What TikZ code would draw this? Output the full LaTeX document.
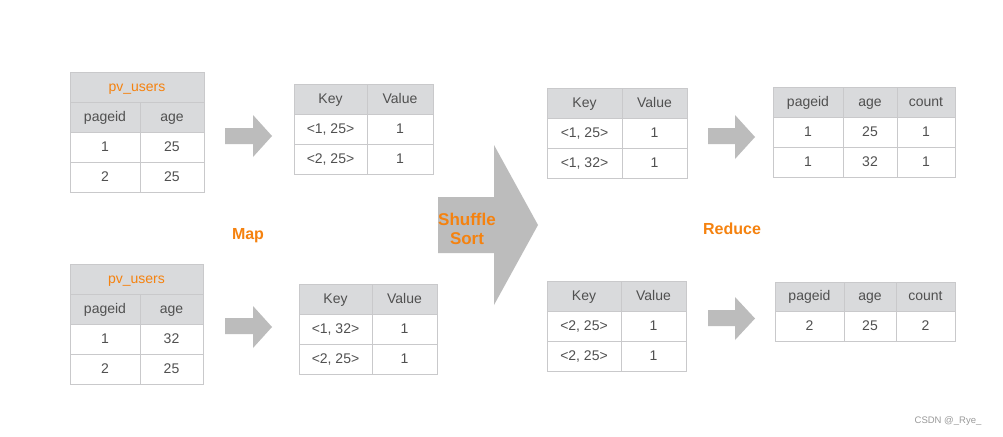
\documentclass[tikz,border=0pt]{standalone}
\usepackage{fontspec}
\setmainfont{Liberation Sans}
\definecolor{bordc}{HTML}{C9C9CB}
\definecolor{hdrc}{HTML}{D9DADC}
\definecolor{txtc}{HTML}{505050}
\definecolor{orng}{HTML}{F5820F}
\definecolor{arrc}{HTML}{BCBCBC}
\definecolor{wmc}{HTML}{9A9A9A}
\tikzset{
  cellbase/.style={draw=bordc, line width=0.9pt, inner sep=0pt, text=txtc, font=\fontsize{14}{16}\selectfont, anchor=center, text height=9pt, text depth=0.5pt},
  hcell/.style={cellbase, fill=hdrc},
  dcell/.style={cellbase, fill=white},
  sz/.style 2 args={minimum width=#1, minimum height=#2},
  lbl/.style={text=orng, font=\fontsize{16}{19}\selectfont\bfseries, align=center, inner sep=0pt},
  garrow/.style={fill=arrc, draw=none}
}
\begin{document}
\begin{tikzpicture}[x=1pt,y=-1pt]
\useasboundingbox (0,0) rectangle (1003,436);
\fill[white] (0,0) rectangle (1003,436);

% ---- pv_users (top)
\node[hcell, sz={134}{30}, text=orng] (t1t) at (137,87) {pv\_users};
\node[hcell, sz={70}{30}] (t1h1) at (105,117) {pageid};
\node[hcell, sz={64}{30}] (t1h2) at (172,117) {age};
\node[dcell, sz={70}{30}] (t1a1) at (105,147) {1};
\node[dcell, sz={64}{30}] (t1a2) at (172,147) {25};
\node[dcell, sz={70}{30}] (t1b1) at (105,177) {2};
\node[dcell, sz={64}{30}] (t1b2) at (172,177) {25};

% ---- pv_users (bottom)
\node[hcell, sz={133}{30}, text=orng] (t2t) at (136.5,279) {pv\_users};
\node[hcell, sz={70}{30}] (t2h1) at (105,309) {pageid};
\node[hcell, sz={63}{30}] (t2h2) at (171.5,309) {age};
\node[dcell, sz={70}{30}] (t2a1) at (105,339) {1};
\node[dcell, sz={63}{30}] (t2a2) at (171.5,339) {32};
\node[dcell, sz={70}{30}] (t2b1) at (105,369) {2};
\node[dcell, sz={63}{30}] (t2b2) at (171.5,369) {25};

% ---- map arrows
\fill[garrow] (225,128) -- (253,128) -- (253,115) -- (272,136) -- (253,157) -- (253,144) -- (225,144) -- cycle;
\fill[garrow] (225,318) -- (253,318) -- (253,306) -- (272,327) -- (253,348) -- (253,334) -- (225,334) -- cycle;
\node[lbl] (map) at (248,236) {Map};

% ---- KV1
\node[hcell, sz={73}{30}] (k1h1) at (330.5,99) {Key};
\node[hcell, sz={66}{30}] (k1h2) at (400,99) {Value};
\node[dcell, sz={73}{30}] (k1a1) at (330.5,129) {<1, 25>};
\node[dcell, sz={66}{30}] (k1a2) at (400,129) {1};
\node[dcell, sz={73}{30}] (k1b1) at (330.5,159) {<2, 25>};
\node[dcell, sz={66}{30}] (k1b2) at (400,159) {1};

% ---- KV2
\node[hcell, sz={73}{30}] (k2h1) at (335.5,299) {Key};
\node[hcell, sz={65}{30}] (k2h2) at (404.5,299) {Value};
\node[dcell, sz={73}{30}] (k2a1) at (335.5,329) {<1, 32>};
\node[dcell, sz={65}{30}] (k2a2) at (404.5,329) {1};
\node[dcell, sz={73}{30}] (k2b1) at (335.5,359) {<2, 25>};
\node[dcell, sz={65}{30}] (k2b2) at (404.5,359) {1};

% ---- shuffle arrow
\fill[garrow] (438,197) -- (494,197) -- (494,145) -- (538,225) -- (494,305) -- (494,253) -- (438,253) -- cycle;
\node[lbl, font=\fontsize{17}{20}\selectfont\bfseries] (shuf) at (467,229) {Shuffle\\[-1pt]Sort};

% ---- KV3
\node[hcell, sz={75}{30}] (k3h1) at (584.5,103) {Key};
\node[hcell, sz={65}{30}] (k3h2) at (654.5,103) {Value};
\node[dcell, sz={75}{30}] (k3a1) at (584.5,133) {<1, 25>};
\node[dcell, sz={65}{30}] (k3a2) at (654.5,133) {1};
\node[dcell, sz={75}{30}] (k3b1) at (584.5,163) {<1, 32>};
\node[dcell, sz={65}{30}] (k3b2) at (654.5,163) {1};

% ---- KV4
\node[hcell, sz={74}{30}] (k4h1) at (584,296) {Key};
\node[hcell, sz={65}{30}] (k4h2) at (653.5,296) {Value};
\node[dcell, sz={74}{30}] (k4a1) at (584,326) {<2, 25>};
\node[dcell, sz={65}{30}] (k4a2) at (653.5,326) {1};
\node[dcell, sz={74}{30}] (k4b1) at (584,356) {<2, 25>};
\node[dcell, sz={65}{30}] (k4b2) at (653.5,356) {1};

% ---- reduce arrows
\fill[garrow] (708,128) -- (735,128) -- (735,115) -- (755,137) -- (735,159) -- (735,144) -- (708,144) -- cycle;
\fill[garrow] (708,310) -- (735,310) -- (735,297) -- (755,318.5) -- (735,340) -- (735,326) -- (708,326) -- cycle;
\node[lbl] (reduce) at (732,229) {Reduce};

% ---- result 1
\node[hcell, sz={70}{30}] (r1h1) at (808,102) {pageid};
\node[hcell, sz={54}{30}] (r1h2) at (870,102) {age};
\node[hcell, sz={58}{30}] (r1h3) at (926,102) {count};
\node[dcell, sz={70}{30}] (r1a1) at (808,132) {1};
\node[dcell, sz={54}{30}] (r1a2) at (870,132) {25};
\node[dcell, sz={58}{30}] (r1a3) at (926,132) {1};
\node[dcell, sz={70}{30}] (r1b1) at (808,162) {1};
\node[dcell, sz={54}{30}] (r1b2) at (870,162) {32};
\node[dcell, sz={58}{30}] (r1b3) at (926,162) {1};

% ---- result 2
\node[hcell, sz={69}{29}] (r2h1) at (809.5,296.5) {pageid};
\node[hcell, sz={52}{29}] (r2h2) at (870,296.5) {age};
\node[hcell, sz={59}{29}] (r2h3) at (925.5,296.5) {count};
\node[dcell, sz={69}{30}] (r2a1) at (809.5,326) {2};
\node[dcell, sz={52}{30}] (r2a2) at (870,326) {25};
\node[dcell, sz={59}{30}] (r2a3) at (925.5,326) {2};

% ---- watermark
\node[text=wmc, font=\fontsize{9.5}{11}\selectfont, inner sep=0pt] (wm) at (948,421) {CSDN @\_Rye\_};
\end{tikzpicture}
\end{document}
